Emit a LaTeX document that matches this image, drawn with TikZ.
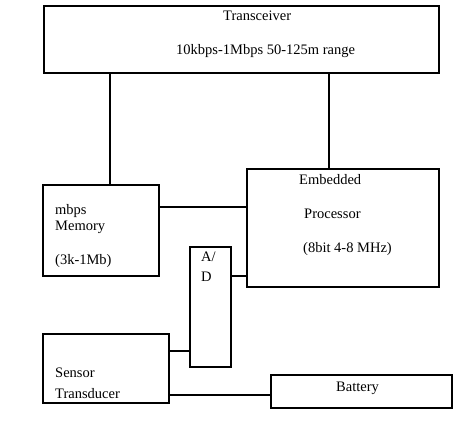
\documentclass[tikz,border=0pt]{standalone}
\usepackage{fontspec}
\setmainfont{Liberation Serif}
\begin{document}
\begin{tikzpicture}[x=1pt,y=-1pt,
  box/.style={draw, line width=1.8pt, inner sep=0pt, outer sep=0pt, rectangle},
  lbl/.style={anchor=base west, inner sep=0pt, font=\fontsize{14.5}{16}\selectfont},
  wire/.style={line width=1.8pt},
  thinwire/.style={line width=1.1pt}]
\useasboundingbox (0,0) rectangle (474,425);
% boxes
\node[box, minimum width=395pt, minimum height=67pt] (tr) at (241.5,39.5) {};
\node[box, minimum width=116pt, minimum height=91pt] (mem) at (101,230.5) {};
\node[box, minimum width=192pt, minimum height=118pt] (proc) at (343,228) {};
\node[box, minimum width=41pt, minimum height=120pt] (ad) at (210.5,307) {};
\node[box, minimum width=126pt, minimum height=69pt] (sen) at (106,368.5) {};
\node[box, minimum width=181pt, minimum height=33pt] (bat) at (361.5,391.5) {};
% labels
\node[lbl] (t1) at (223,21) {Transceiver};
\node[lbl] (t2) at (176,55) {10kbps-1Mbps 50-125m range};
\node[lbl] (m1) at (55,214) {mbps};
\node[lbl] (m2) at (55,230) {Memory};
\node[lbl] (m3) at (55,264) {(3k-1Mb)};
\node[lbl] (a1) at (201,261) {A/};
\node[lbl] (a2) at (201,281) {D};
\node[lbl] (p1) at (299,185) {Embedded};
\node[lbl] (p2) at (304,218) {Processor};
\node[lbl] (p3) at (303,252) {(8bit 4-8 MHz)};
\node[lbl] (s1) at (55,377) {Sensor};
\node[lbl] (s2) at (55,398) {Transducer};
\node[lbl] (b1) at (336,391) {Battery};
% helper coordinates for connector positions
\coordinate (cx1) at (110,0);
\coordinate (cx2) at (329,0);
\coordinate (cy1) at (0,207);
\coordinate (cy2) at (0,276);
\coordinate (cy3) at (0,351);
\coordinate (cy4) at (0,395);
% connectors
\draw[wire] (tr.south -| cx1) -- (mem.north -| cx1);
\draw[wire] (tr.south -| cx2) -- (proc.north -| cx2);
\draw[wire] (mem.east |- cy1) -- (proc.west |- cy1);
\draw[wire] (ad.east |- cy2) -- (proc.west |- cy2);
\draw[wire] (sen.east |- cy3) -- (ad.west |- cy3);
\draw[thinwire] (sen.east |- cy4) -- (bat.west |- cy4);
\end{tikzpicture}
\end{document}
